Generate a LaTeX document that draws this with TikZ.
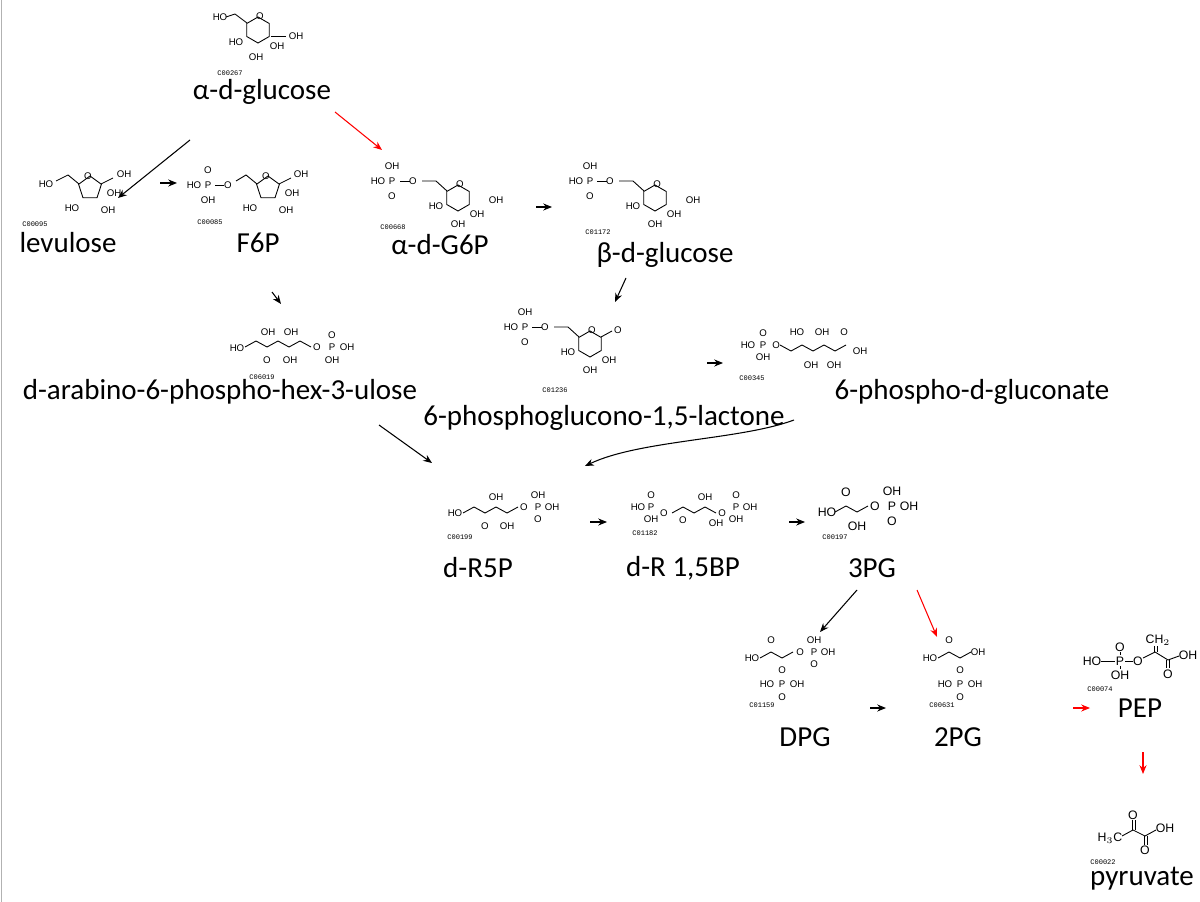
\documentclass[tikz,border=0pt]{standalone}
\usepackage{fontspec}
\setmainfont{Carlito}
\newfontfamily\chemf{Liberation Sans}
\newfontfamily\idf{Liberation Mono}
\usetikzlibrary{arrows.meta}
\newcommand\myhex[2]{\draw[line width=0.5pt] (#1,#2) +(30:13) -- +(90:13) -- +(150:13) -- +(210:13) -- +(270:13) -- +(330:13) -- cycle;}
\newcommand\mypent[2]{\draw[line width=0.5pt] (#1,#2) +(-90:12) -- +(-18:12) -- +(54:12) -- +(126:12) -- +(198:12) -- cycle;}
\begin{document}
\begin{tikzpicture}[x=0.02cm,y=-0.02cm,
 lbl/.style={font=\fontsize{16.5}{18}\selectfont},
 cid/.style={font=\idf\fontsize{4}{5}\selectfont},
 ch/.style={font=\chemf\fontsize{5.5}{6}\selectfont,inner sep=0.5pt},
 chb/.style={font=\chemf\fontsize{7}{8}\selectfont,inner sep=0.5pt},
 bond/.style={line width=0.5pt},
 arr/.style={-{Stealth[length=5pt,width=4pt]},line width=0.6pt},
 rarr/.style={arr,red}]
\useasboundingbox (0,0) rectangle (1200,902);
\draw[gray!60,line width=0.4pt] (1,0) -- (1,902);
% labels
\node[lbl] (glc) at (262,92) {α-d-glucose};
\node[lbl] (lev) at (68,243) {levulose};
\node[lbl] (f6p) at (258,243) {F6P};
\node[lbl] (g6p) at (440,245) {α-d-G6P};
\node[lbl] (bglc) at (665,255) {β-d-glucose};
\node[lbl] (ara) at (220,392) {d-arabino-6-phospho-hex-3-ulose};
\node[lbl] (lac) at (604,418) {6-phosphoglucono-1,5-lactone};
\node[lbl] (gcn) at (972,392) {6-phospho-d-gluconate};
\node[lbl] (r5p) at (478,568) {d-R5P};
\node[lbl] (rbp) at (683,568) {d-R 1,5BP};
\node[lbl] (pg3) at (872,568) {3PG};
\node[lbl] (dpg) at (805,737) {DPG};
\node[lbl] (pg2) at (958,737) {2PG};
\node[lbl] (pep) at (1140,708) {PEP};
\node[lbl] (pyr) at (1142,879) {pyruvate};
% ids
\node[cid] at (230,73) {C00267};
\node[cid] at (35,224) {C00095};
\node[cid] at (210,222) {C00085};
\node[cid] at (393,227) {C00668};
\node[cid] at (598,232) {C01172};
\node[cid] at (262,377) {C06019};
\node[cid] at (555,390) {C01236};
\node[cid] at (752,378) {C00345};
\node[cid] at (460,537) {C00199};
\node[cid] at (645,533) {C01182};
\node[cid] at (835,537) {C00197};
\node[cid] at (762,705) {C01159};
\node[cid] at (942,705) {C00631};
\node[cid] at (1100,689) {C00074};
\node[cid] at (1103,862) {C00022};
% structures: pyranoses
\myhex{258}{30}
\draw[bond] (247,23) -- (235,14) -- (226,17); \node[ch] at (220,17) {HO};
\node[ch] at (260,16) {O}; \draw[bond] (271,36) -- (286,36); \node[ch] at (296,36) {OH};
\node[ch] at (236,42) {HO}; \node[ch] at (277,46) {OH}; \node[ch] at (256,57) {OH};
\myhex{458}{198}
\draw[bond] (447,191) -- (436,181) -- (422,181); \node[ch] at (413,181) {O};
\draw[bond] (410,181)--(400,181); \node[ch] at (392,181) {P}; \node[ch] at (378,181) {HO}; \node[ch] at (392,166) {OH}; \node[ch] at (392,196) {O};
\node[ch] at (460,184) {O}; \node[ch] at (496,200) {OH}; \node[ch] at (436,206) {HO}; \node[ch] at (477,214) {OH}; \node[ch] at (458,224) {OH};
\myhex{655}{198}
\draw[bond] (644,191) -- (633,181) -- (619,181); \node[ch] at (610,181) {O};
\draw[bond] (607,181)--(597,181); \node[ch] at (590,181) {P}; \node[ch] at (576,181) {HO}; \node[ch] at (590,166) {OH}; \node[ch] at (590,196) {O};
\node[ch] at (657,184) {O}; \node[ch] at (693,200) {OH}; \node[ch] at (633,206) {HO}; \node[ch] at (674,214) {OH}; \node[ch] at (655,224) {OH};
\myhex{590}{344}
\draw[bond] (579,337) -- (568,327) -- (554,327); \node[ch] at (545,327) {O};
\draw[bond] (542,327)--(532,327); \node[ch] at (525,327) {P}; \node[ch] at (511,327) {HO}; \node[ch] at (525,312) {OH}; \node[ch] at (525,342) {O};
\node[ch] at (592,330) {O}; \draw[bond] (601,337)--(612,331); \node[ch] at (618,330) {O}; \node[ch] at (568,352) {HO}; \node[ch] at (609,360) {OH}; \node[ch] at (590,370) {OH};
% furanoses
\mypent{90}{188}
\draw[bond] (79,184)--(68,175)--(56,181); \node[ch] at (46,184) {HO};
\node[ch] at (88,176) {O}; \draw[bond] (101,184)--(113,178); \node[ch] at (124,174) {OH}; \node[ch] at (114,193) {OH};
\node[ch] at (72,208) {HO}; \node[ch] at (108,210) {OH};
\mypent{268}{188}
\draw[bond] (257,184)--(246,175)--(236,181); \node[ch] at (228,185) {O};
\draw[bond] (224,185)--(215,185); \node[ch] at (208,185) {P}; \node[ch] at (194,185) {HO}; \node[ch] at (208,170) {O}; \node[ch] at (208,200) {OH};
\node[ch] at (266,176) {O}; \draw[bond] (279,184)--(291,178); \node[ch] at (301,174) {OH}; \node[ch] at (292,193) {OH};
\node[ch] at (250,208) {HO}; \node[ch] at (286,210) {OH};
% linear chains
\draw[bond] (245,347)--(256,341)--(267,347)--(278,341)--(289,347)--(300,341)--(311,347);
\node[ch] at (237,348) {HO}; \node[ch] at (268,332) {OH}; \node[ch] at (291,332) {OH}; \node[ch] at (267,360) {O}; \node[ch] at (290,360) {OH};
\node[ch] at (317,347) {O}; \node[ch] at (332,347) {P}; \node[ch] at (347,347) {OH}; \node[ch] at (332,335) {O}; \node[ch] at (332,360) {OH};
\draw[bond] (780,345)--(791,351)--(802,345)--(813,351)--(824,345)--(835,351)--(846,345);
\node[ch] at (776,345) {O}; \node[ch] at (763,345) {P}; \node[ch] at (748,345) {HO}; \node[ch] at (763,333) {O}; \node[ch] at (763,357) {OH};
\node[ch] at (797,332) {HO}; \node[ch] at (822,332) {OH}; \node[ch] at (811,365) {OH}; \node[ch] at (834,365) {OH}; \node[ch] at (844,332) {O}; \node[ch] at (860,351) {OH};
\draw[bond] (463,513)--(474,507)--(485,513)--(496,507)--(507,513)--(518,507);
\node[ch] at (455,513) {HO}; \node[ch] at (485,526) {O}; \node[ch] at (496,497) {OH}; \node[ch] at (507,526) {OH};
\node[ch] at (524,507) {O}; \node[ch] at (538,507) {P}; \node[ch] at (552,507) {OH}; \node[ch] at (538,495) {OH}; \node[ch] at (538,519) {O};
\draw[bond] (672,513)--(683,507)--(694,513)--(705,507)--(716,513);
\node[ch] at (664,513) {O}; \node[ch] at (651,507) {P}; \node[ch] at (651,495) {O}; \node[ch] at (638,507) {HO}; \node[ch] at (651,519) {OH};
\node[ch] at (683,520) {O}; \node[ch] at (705,497) {OH}; \node[ch] at (716,523) {OH};
\node[ch] at (722,513) {O}; \node[ch] at (736,507) {P}; \node[ch] at (750,507) {OH}; \node[ch] at (736,495) {O}; \node[ch] at (736,519) {OH};
\draw[bond] (835,512)--(846,506)--(857,512)--(868,506);
\node[chb] at (827,512) {HO}; \node[chb] at (846,492) {O}; \node[chb] at (857,526) {OH};
\node[chb] at (875,506) {O}; \node[chb] at (892,506) {P}; \node[chb] at (909,506) {OH}; \node[chb] at (892,491) {OH}; \node[chb] at (892,521) {O};
\draw[bond] (760,658)--(771,652)--(782,658)--(793,652);
\node[ch] at (752,658) {HO}; \node[ch] at (771,640) {O}; \node[ch] at (782,670) {O};
\node[ch] at (782,684) {P}; \node[ch] at (767,684) {HO}; \node[ch] at (797,684) {OH}; \node[ch] at (782,697) {O};
\node[ch] at (800,652) {O}; \node[ch] at (814,652) {P}; \node[ch] at (828,652) {OH}; \node[ch] at (814,640) {OH}; \node[ch] at (814,664) {O};
\draw[bond] (938,658)--(949,652)--(960,658)--(971,652);
\node[ch] at (930,658) {HO}; \node[ch] at (949,640) {O}; \node[ch] at (960,670) {O}; \node[ch] at (978,652) {OH};
\node[ch] at (960,684) {P}; \node[ch] at (945,684) {HO}; \node[ch] at (975,684) {OH}; \node[ch] at (960,697) {O};
% PEP
\draw[bond] (1101,661)--(1115,661); \draw[bond] (1125,661)--(1133,661);
\draw[bond] (1120,655)--(1120,652); \draw[bond] (1120,666)--(1120,669);
\draw[bond] (1143,658)--(1155,652)--(1168,660)--(1179,656);
\draw[bond] (1154,652)--(1154,646); \draw[bond] (1157,652)--(1157,646);
\draw[bond] (1166,660)--(1166,668); \draw[bond] (1169,660)--(1169,668);
\node[chb] at (1092,661) {HO}; \node[chb] at (1120,661) {P}; \node[chb] at (1120,647) {O}; \node[chb] at (1120,675) {OH};
\node[chb] at (1138,661) {O}; \node[chb] at (1158,640) {CH$_2$}; \node[chb] at (1188,655) {OH}; \node[chb] at (1168,674) {O};
% pyruvate
\draw[bond] (1122,836)--(1133,830)--(1145,836)--(1156,830);
\draw[bond] (1132,830)--(1132,820); \draw[bond] (1135,830)--(1135,820);
\draw[bond] (1144,836)--(1144,845); \draw[bond] (1147,836)--(1147,845);
\node[chb] at (1110,838) {H$_3$C}; \node[chb] at (1133,815) {O}; \node[chb] at (1145,850) {O}; \node[chb] at (1165,828) {OH};
% arrows
\coordinate (a1s) at (190,140); \coordinate (a1e) at (118,198); \draw[arr] (a1s) -- (a1e);
\coordinate (a2s) at (335,112); \coordinate (a2e) at (382,150); \draw[rarr] (a2s) -- (a2e);
\coordinate (a3s) at (160,183); \coordinate (a3e) at (177,183); \draw[arr] (a3s) -- (a3e);
\coordinate (a4s) at (536,207); \coordinate (a4e) at (552,207); \draw[arr] (a4s) -- (a4e);
\coordinate (a5s) at (272,292); \coordinate (a5e) at (281,304); \draw[arr] (a5s) -- (a5e);
\coordinate (a6s) at (626,278); \coordinate (a6e) at (615,302); \draw[arr] (a6s) -- (a6e);
\coordinate (a7s) at (379,425); \coordinate (a7e) at (432,463); \draw[arr] (a7s) -- (a7e);
\coordinate (a8s) at (794,420); \coordinate (a8e) at (585,466); \draw[arr] (a8s) .. controls (740,440) and (640,440) .. (a8e);
\coordinate (a9s) at (707,363); \coordinate (a9e) at (723,363); \draw[arr] (a9s) -- (a9e);
\coordinate (b1s) at (590,522); \coordinate (b1e) at (607,522); \draw[arr] (b1s) -- (b1e);
\coordinate (b2s) at (789,522); \coordinate (b2e) at (805,522); \draw[arr] (b2s) -- (b2e);
\coordinate (b3s) at (857,590); \coordinate (b3e) at (820,632); \draw[arr] (b3s) -- (b3e);
\coordinate (b4s) at (917,590); \coordinate (b4e) at (937,637); \draw[rarr] (b4s) -- (b4e);
\coordinate (b5s) at (870,708); \coordinate (b5e) at (886,708); \draw[arr] (b5s) -- (b5e);
\coordinate (b6s) at (1073,708); \coordinate (b6e) at (1090,708); \draw[rarr] (b6s) -- (b6e);
\coordinate (b7s) at (1143,752); \coordinate (b7e) at (1143,774); \draw[rarr] (b7s) -- (b7e);
\end{tikzpicture}
\end{document}
